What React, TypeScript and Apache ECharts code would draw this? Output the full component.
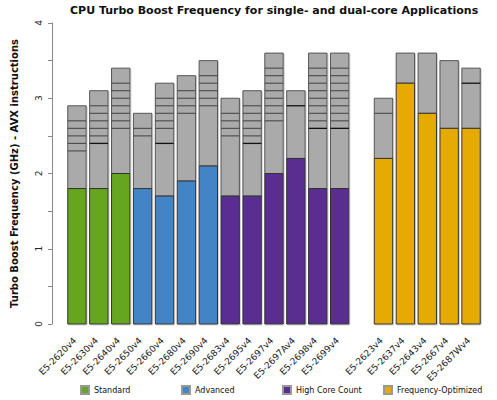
import React, { useEffect, useRef } from "react";
import * as echarts from "echarts";

// ---- data ----
const categories = [
  "E5-2620v4", "E5-2630v4", "E5-2640v4",
  "E5-2650v4", "E5-2660v4", "E5-2680v4", "E5-2690v4",
  "E5-2683v4", "E5-2695v4", "E5-2697v4", "E5-2697Av4", "E5-2698v4", "E5-2699v4",
  "",
  "E5-2623v4", "E5-2637v4", "E5-2643v4", "E5-2667v4", "E5-2687Wv4",
];

// base (AVX) frequency of each bar, GHz
const baseFreq = [1.8, 1.8, 2.0, 1.8, 1.7, 1.9, 2.1, 1.7, 1.7, 2.0, 2.2, 1.8, 1.8, 0, 2.2, 3.2, 2.8, 2.6, 2.6];
// max turbo frequency of each bar, GHz
const maxTurbo = [2.9, 3.1, 3.4, 2.8, 3.2, 3.3, 3.5, 3.0, 3.1, 3.6, 3.1, 3.6, 3.6, 0, 3.0, 3.6, 3.6, 3.5, 3.4];
// intermediate turbo bins (horizontal marks inside the grey part)
const turboBins: number[][] = [
  [2.3, 2.4, 2.5, 2.6, 2.7],
  [2.4, 2.5, 2.6, 2.7, 2.8, 2.9],
  [2.6, 2.7, 2.8, 2.9, 3.0, 3.1, 3.2],
  [2.5, 2.6],
  [2.4, 2.6, 2.7, 2.8, 2.9, 3.0],
  [2.8, 2.9, 3.0, 3.1],
  [2.9, 3.0, 3.1, 3.2, 3.3],
  [2.5, 2.6, 2.7, 2.8],
  [2.4, 2.5, 2.6, 2.7, 2.8, 2.9],
  [2.7, 2.8, 2.9, 3.0, 3.1, 3.2, 3.3, 3.4],
  [2.9],
  [2.6, 2.7, 2.8, 2.9, 3.0, 3.1, 3.2, 3.3, 3.4],
  [2.6, 2.7, 2.8, 2.9, 3.0, 3.1, 3.2, 3.3, 3.4],
  [],
  [2.8],
  [],
  [],
  [],
  [3.2],
];
// bins drawn with a darker mark
const darkBins: number[][] = [
  [], [2.4], [], [], [2.4], [], [], [], [2.4], [], [2.9], [2.6], [2.6], [], [], [], [], [], [3.2],
];

const groupNames = ["Standard", "Advanced", "High Core Count", "Frequency-Optimized"];
const groupColors = ["#66A61E", "#4384C6", "#5A2D90", "#E6AB02"];
const groupMembers = [
  [0, 1, 2],
  [3, 4, 5, 6],
  [7, 8, 9, 10, 11, 12],
  [14, 15, 16, 17, 18],
];

const yTicks = [0, 1, 2, 3, 4];

const FONT = "DejaVu Sans";

function makeRenderItem(color: string) {
  return (params: any, api: any) => {
    const ci = api.value(0);
    const base = baseFreq[ci];
    const top = maxTurbo[ci];
    const w = api.size([1, 0])[0] * 0.84;
    const p0 = api.coord([ci, 0]);
    const pb = api.coord([ci, base]);
    const pt = api.coord([ci, top]);
    const x = p0[0] - w / 2;
    const children: any[] = [];
    children.push({
      type: "rect",
      shape: { x: x + 1, y: pt[1] + 1, width: w, height: p0[1] - pt[1] },
      style: { fill: "none", stroke: "#d0d0d0", lineWidth: 1 },
    });
    children.push({
      type: "rect",
      shape: { x, y: pt[1], width: w, height: pb[1] - pt[1] },
      style: { fill: "#AAAAAA", stroke: "#555555", lineWidth: 1 },
    });
    children.push({
      type: "rect",
      shape: { x, y: pb[1], width: w, height: p0[1] - pb[1] },
      style: { fill: color, stroke: "#333333", lineWidth: 1 },
    });
    const dark = darkBins[ci];
    turboBins[ci].forEach((b) => {
      const pl = api.coord([ci, b]);
      const isDark = dark.indexOf(b) >= 0;
      children.push({
        type: "line",
        shape: { x1: x, y1: pl[1], x2: x + w, y2: pl[1] },
        style: { stroke: isDark ? "#111111" : "#4a4a4a", lineWidth: isDark ? 1.3 : 1.1 },
      });
    });
    return { type: "group", children };
  };
}

const legendLefts = [80, 181, 282, 383];

export default function App() {
  const ref = useRef<HTMLDivElement>(null);
  useEffect(() => {
    document.body.style.margin = "0";
    if (!ref.current) return;
    const chart = echarts.init(ref.current, undefined, { renderer: "svg" });
    const series = groupNames.map((name, g) => ({
      name,
      type: "custom",
      renderItem: makeRenderItem(groupColors[g]),
      itemStyle: { color: groupColors[g], borderColor: "#999999", borderWidth: 1 },
      encode: { x: 0, y: 1 },
      data: groupMembers[g].map((ci) => [ci, maxTurbo[ci]]),
    }));
    chart.setOption({
      animation: false,
      textStyle: { fontFamily: FONT },
      title: {
        text: "CPU Turbo Boost Frequency for single- and dual-core Applications",
        left: 70,
        top: 5,
        padding: 0,
        textStyle: { fontFamily: FONT, fontSize: 11, fontWeight: "bold", color: "#111" },
      },
      legend: groupNames.map((name, g) => ({
        data: [name],
        left: legendLefts[g],
        top: 385,
        padding: 0,
        icon: "rect",
        itemWidth: 8,
        itemHeight: 8,
        selectedMode: false,
        textStyle: { fontFamily: FONT, fontSize: 8, color: "#111" },
      })),
      grid: { left: 66, right: 15, top: 23, bottom: 76, containLabel: false, outerBoundsMode: "none" },
      xAxis: {
        type: "category",
        data: categories,
        axisLine: { show: false },
        axisTick: { show: false },
        axisLabel: {
          rotate: 45,
          interval: 0,
          fontSize: 9,
          fontFamily: FONT,
          color: "#222",
          margin: 13,
          padding: [0, 3, 0, 0],
        },
      },
      yAxis: {
        type: "value",
        min: 0,
        max: 4,
        interval: 0.5,
        offset: 14,
        splitLine: { show: false },
        axisLine: { show: true, lineStyle: { color: "#888" } },
        axisTick: { show: true, length: 4, lineStyle: { color: "#888" } },
        axisLabel: {
          rotate: 90,
          fontSize: 9,
          fontFamily: FONT,
          color: "#222",
          margin: 9,
          formatter: (v: number) => (yTicks.indexOf(v) >= 0 ? String(v) : ""),
        },
        name: "Turbo Boost Frequency (GHz) - AVX instructions",
        nameLocation: "middle",
        nameRotate: 90,
        nameGap: 33,
        nameTextStyle: { fontFamily: FONT, fontSize: 10, fontWeight: "bold", color: "#111" },
      },
      series,
    });
    return () => chart.dispose();
  }, []);
  return <div ref={ref} style={{ width: 497, height: 400 }} />;
}
